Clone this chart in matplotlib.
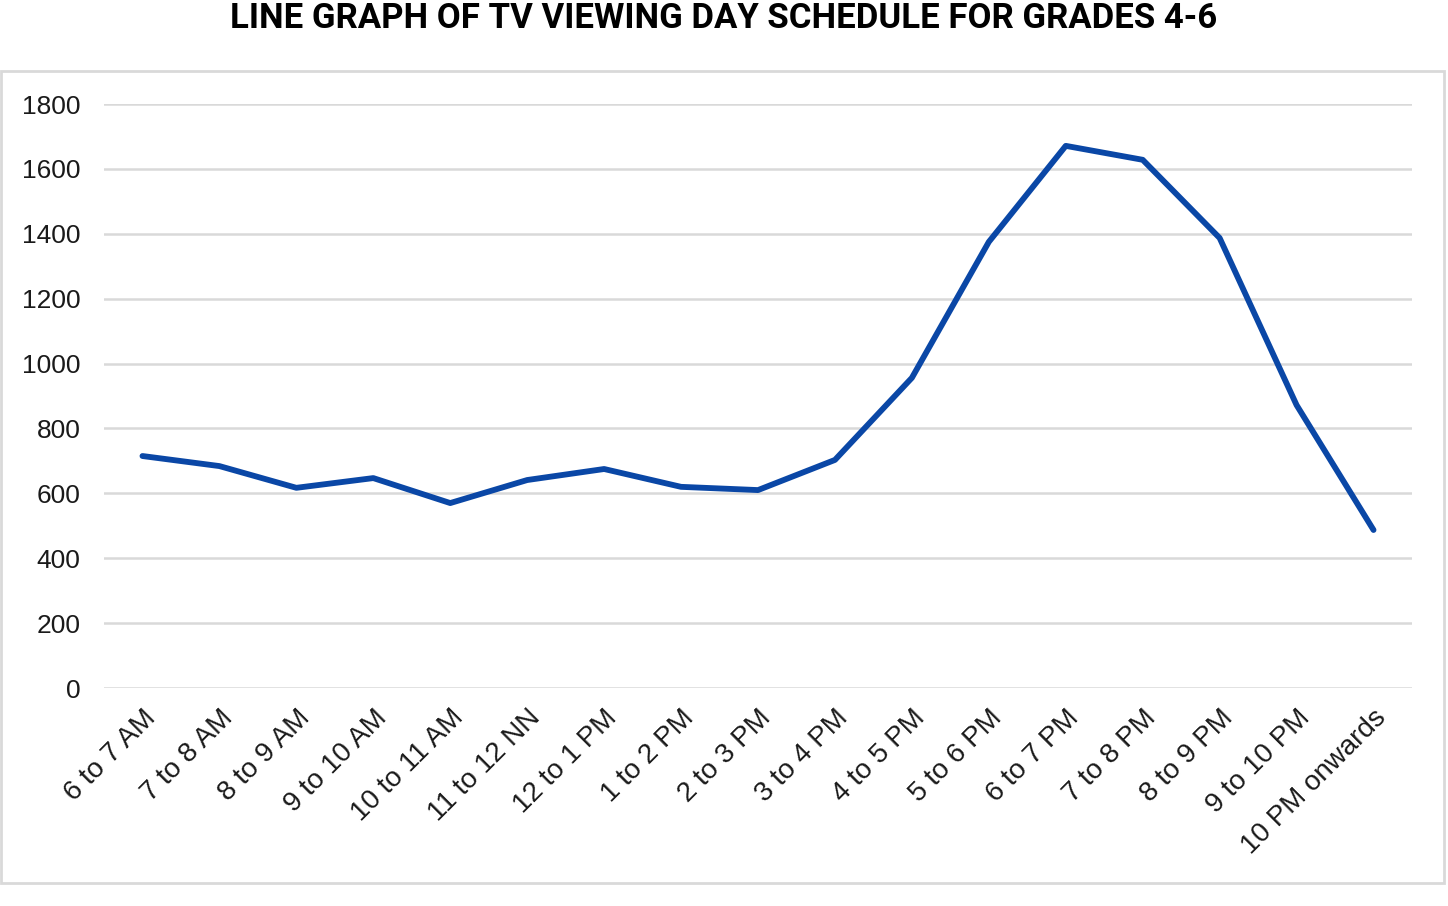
import matplotlib.pyplot as plt
from matplotlib.patches import Rectangle

categories = [
    "6 to 7 AM", "7 to 8 AM", "8 to 9 AM", "9 to 10 AM", "10 to 11 AM",
    "11 to 12 NN", "12 to 1 PM", "1 to 2 PM", "2 to 3 PM", "3 to 4 PM",
    "4 to 5 PM", "5 to 6 PM", "6 to 7 PM", "7 to 8 PM", "8 to 9 PM",
    "9 to 10 PM", "10 PM onwards",
]
viewers = [715, 684, 617, 647, 570, 641, 675, 620, 610, 703,
           956, 1375, 1671, 1628, 1387, 872, 487]
y_ticks = [0, 200, 400, 600, 800, 1000, 1200, 1400, 1600, 1800]

fig = plt.figure(figsize=(14.48, 9.06), dpi=100)
ax = fig.add_axes([104 / 1448, 1 - 688 / 906, (1412 - 104) / 1448, (688 - 104) / 906])

# outer chart-area border
fig.patches.append(Rectangle((1 / 1448, 1 - 883 / 906), 1443 / 1448, 812 / 906,
                             transform=fig.transFigure, fill=False,
                             edgecolor="#D9D9D9", linewidth=2))

x = list(range(len(categories)))
ax.plot(x, viewers, color="#0A47A6", linewidth=4.2, solid_capstyle="round",
        solid_joinstyle="round", zorder=3)

ax.set_xlim(-0.5, len(categories) - 0.5)
ax.set_ylim(0, 1800)
ax.set_yticks(y_ticks)
ax.set_xticks(x)
ax.set_xticklabels(categories, rotation=45, ha="right", rotation_mode="anchor")
ax.grid(axis="y", color="#D9D9D9", linewidth=1.8)
ax.set_axisbelow(True)
for s in ax.spines.values():
    s.set_visible(False)
ax.tick_params(length=0, labelcolor="#1a1a1a", colors="#1a1a1a")
ax.tick_params(axis="y", pad=17, labelsize=19)
ax.tick_params(axis="x", pad=12, labelsize=20)
for lab in ax.get_xticklabels() + ax.get_yticklabels():
    lab.set_family("Liberation Sans")

fig.text(0.5, 1 - 2 / 906, "LINE GRAPH OF TV VIEWING DAY SCHEDULE FOR GRADES 4-6",
         ha="center", va="top", fontsize=25, fontweight="bold", family="Roboto")

fig.savefig("out.png", dpi=100)
